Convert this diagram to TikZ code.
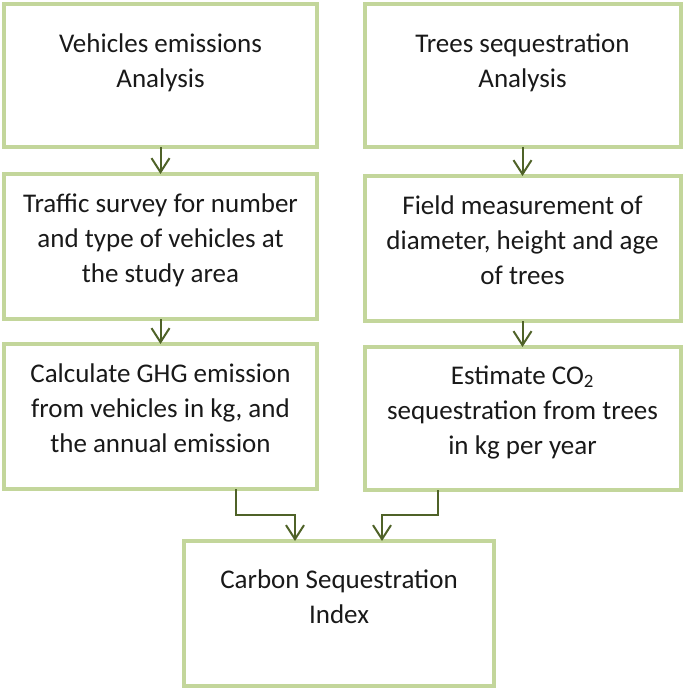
\documentclass[tikz,border=0pt]{standalone}
\usepackage{fontspec}
\setmainfont{Carlito}
\usetikzlibrary{arrows.meta}
\definecolor{boxgreen}{HTML}{C3D69B}
\definecolor{arrgreen}{HTML}{4F6228}
\begin{document}
\begin{tikzpicture}[x=1pt,y=-1pt,
  box/.style={draw=boxgreen,line width=4pt,rectangle,inner sep=0pt,outer sep=0pt},
  txt/.style={anchor=north,inner sep=0pt,align=center,text=black!90,
    font=\fontsize{27}{35}\selectfont},
  arr/.style={draw=arrgreen,line width=2pt,
    -{Straight Barb[length=14pt,width=18pt,line width=2pt]}}]
\useasboundingbox (0,0) rectangle (685,690);
% boxes
\node[box,minimum width=313pt,minimum height=143pt] (L1) at (160.5,75.5) {};
\node[box,minimum width=316pt,minimum height=143pt] (R1) at (522.5,75.5) {};
\node[box,minimum width=313pt,minimum height=145pt] (L2) at (160.5,246.5) {};
\node[box,minimum width=316pt,minimum height=145pt] (R2) at (522.5,248.5) {};
\node[box,minimum width=313pt,minimum height=145pt] (L3) at (160.5,416.5) {};
\node[box,minimum width=316pt,minimum height=143pt] (R3) at (522.5,418.5) {};
\node[box,minimum width=310pt,minimum height=145pt] (C) at (339,613.5) {};
% texts
\node[txt] (tL1) at (160.5,27.5) {\strut Vehicles emissions\\Analysis};
\node[txt] (tR1) at (522.5,27.5) {\strut Trees sequestration\\Analysis};
\node[txt] (tL2) at (160.5,187.5) {\strut Traffic survey for number\\and type of vehicles at\\the study area};
\node[txt] (tR2) at (522.5,189.5) {\strut Field measurement of\\diameter, height and age\\of trees};
\node[txt] (tL3) at (160.5,357.5) {\strut Calculate GHG emission\\from vehicles in kg, and\\the annual emission};
\node[txt] (tR3) at (522.5,359.5) {\strut Estimate CO\textsubscript{2}\\sequestration from trees\\in kg per year};
\node[txt] (tC) at (339,563.5) {\strut Carbon Sequestration\\Index};
% connectors
\draw[arr] (L1) -- (L2);
\draw[arr] (R1) -- (R2);
\draw[arr] (L2) -- (L3);
\draw[arr] (R2) -- (R3);
\coordinate (jL) at (295,515);
\coordinate (jR) at (382,515);
\draw[arr] (L3.south -| 236,0) |- (jL) -- (jL |- C.north);
\draw[arr] (R3.south -| 438,0) |- (jR) -- (jR |- C.north);
\end{tikzpicture}
\end{document}
